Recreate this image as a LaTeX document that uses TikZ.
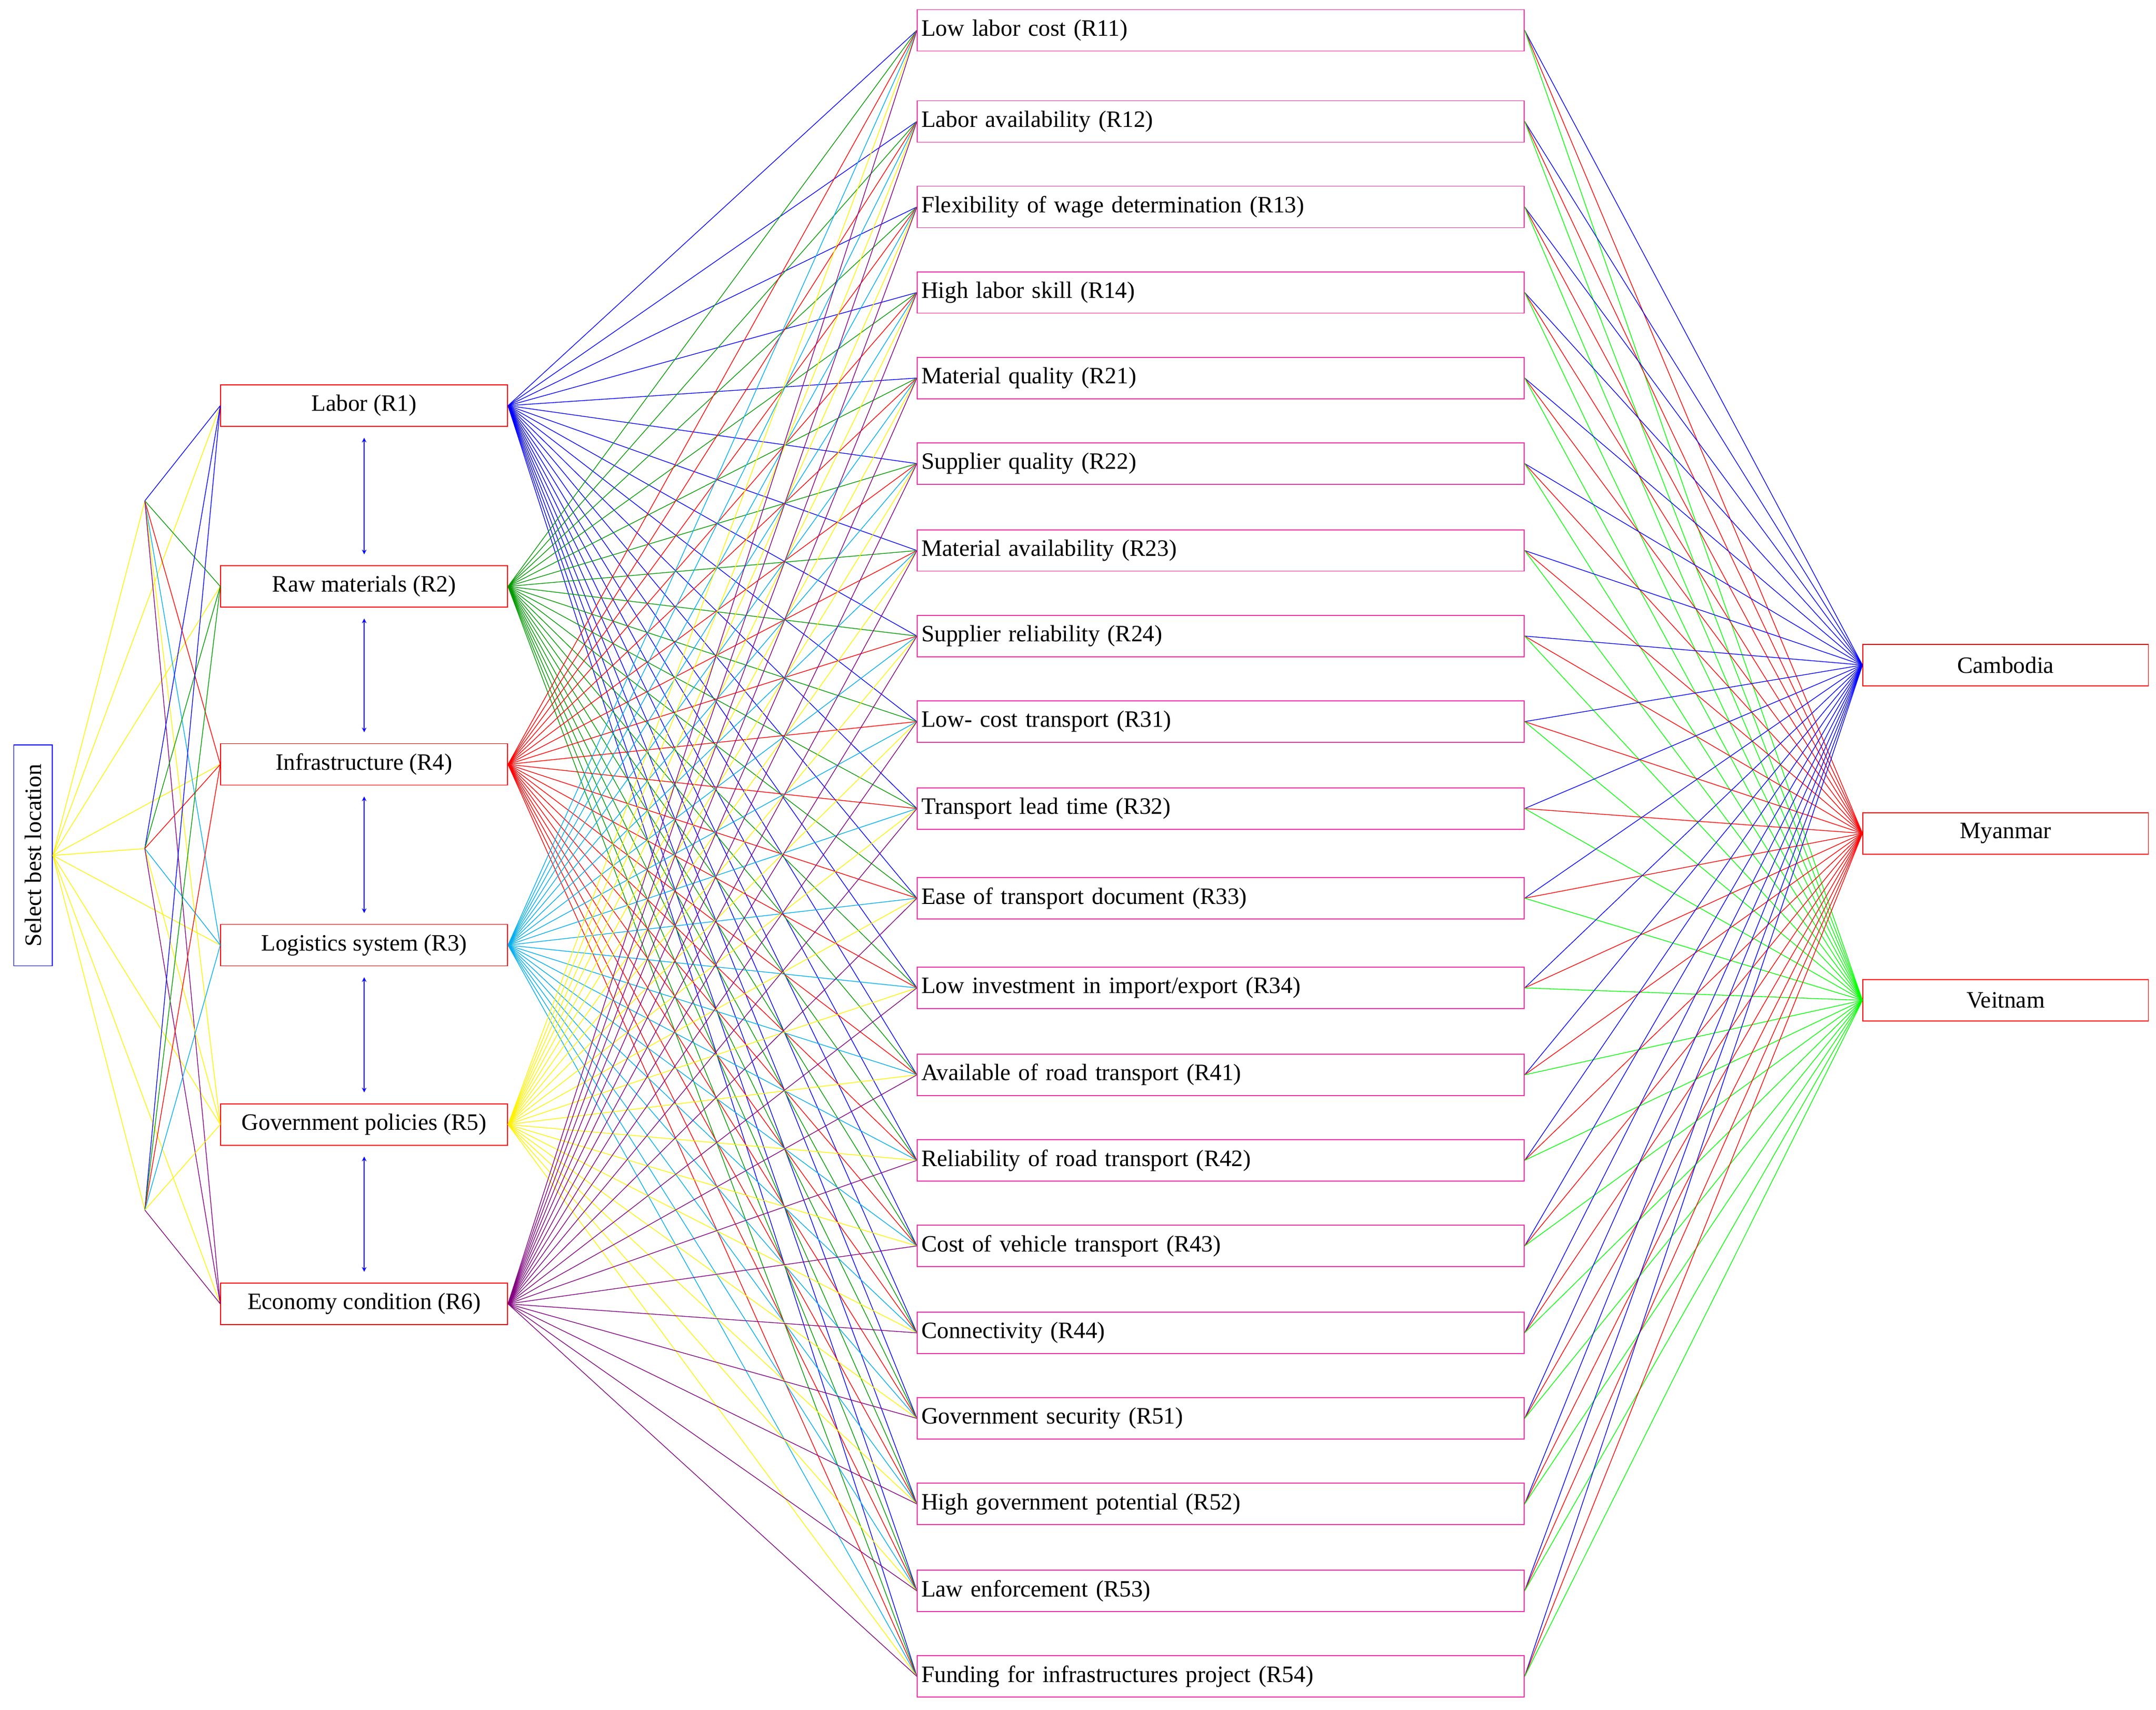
\documentclass[tikz,border=0pt]{standalone}
\usepackage{fontspec}
\setmainfont{Liberation Serif}
\begin{document}
\begin{tikzpicture}[x=1pt,y=-1pt,
  box/.style={draw=#1,minimum height=30pt,inner sep=3pt,line width=0.6pt},
  crit/.style={box=red,minimum width=208pt},
  sub/.style={box=magenta!80,minimum width=440pt,text width=434pt,align=left},
  alt/.style={box=red,minimum width=207pt},
  ln/.style={line width=0.5pt},
  dbl/.style={ln,blue,<->,>=stealth,shorten >=8pt,shorten <=8pt}]
\fontsize{17}{19}\selectfont
\useasboundingbox (0,0) rectangle (1563,1239);
\node[box=blue,rotate=90,minimum width=160pt,minimum height=28pt,inner sep=1pt] (sel) at (24,620) {Select best location};
% criteria
\foreach \n/\y/\t in {1/294/Labor (R1),2/425/Raw materials (R2),4/554/Infrastructure (R4),3/685/Logistics system (R3),5/815/Government policies (R5),6/945/Economy condition (R6)}
  \node[crit] (c\n) at (264,\y) {\t};
% subcriteria
\foreach \n/\y/\t in {1/22/Low labor cost (R11),2/88/Labor availability (R12),3/150/Flexibility of wage determination (R13),4/212/High labor skill (R14),5/274/Material quality (R21),6/336/Supplier quality (R22),7/399/Material availability (R23),8/461/Supplier reliability (R24),9/523/Low- cost transport (R31),10/586/Transport lead time (R32),11/651/Ease of transport document (R33),12/716/{Low investment in import/export (R34)},13/779/Available of road transport (R41),14/841/Reliability of road transport (R42),15/903/Cost of vehicle transport (R43),16/966/Connectivity (R44),17/1028/Government security (R51),18/1090/High government potential (R52),19/1153/Law enforcement (R53),20/1215/Funding for infrastructures project (R54)}
  \node[sub] (s\n) at (885,\y) {\t};
% alternatives
\node[alt] (a1) at (1454,482) {Cambodia};
\node[alt] (a2) at (1454,604) {Myanmar};
\node[alt] (a3) at (1454,725) {Veitnam};
% junctions
\coordinate (j1) at (105,363);
\coordinate (j2) at (105,615);
\coordinate (j3) at (105,877);
\foreach \j in {j1,j2,j3} \draw[ln,yellow] (sel.south) -- (\j);
\foreach \n in {1,2,4,3,5,6} \draw[ln,yellow] (sel.south) -- (c\n.west);
\foreach \j in {j1,j2,j3}
  \foreach \n/\c in {1/blue,2/green!60!black,4/red,3/cyan,5/yellow,6/violet}
    \draw[ln,\c] (\j) -- (c\n.west);
% arrows between criteria
\draw[dbl] (c1.south) -- (c2.north);
\draw[dbl] (c2.south) -- (c4.north);
\draw[dbl] (c4.south) -- (c3.north);
\draw[dbl] (c3.south) -- (c5.north);
\draw[dbl] (c5.south) -- (c6.north);
% fans
\foreach \n/\c in {1/blue,2/green!60!black,4/red,3/cyan,5/yellow,6/violet}
  \foreach \k in {1,...,20}
    \draw[ln,\c] (c\n.east) -- (s\k.west);
\foreach \k in {1,...,20}{
  \draw[ln,blue] (s\k.east) -- (a1.west);
  \draw[ln,red] (s\k.east) -- (a2.west);
  \draw[ln,green] (s\k.east) -- (a3.west);
}
\end{tikzpicture}
\end{document}
